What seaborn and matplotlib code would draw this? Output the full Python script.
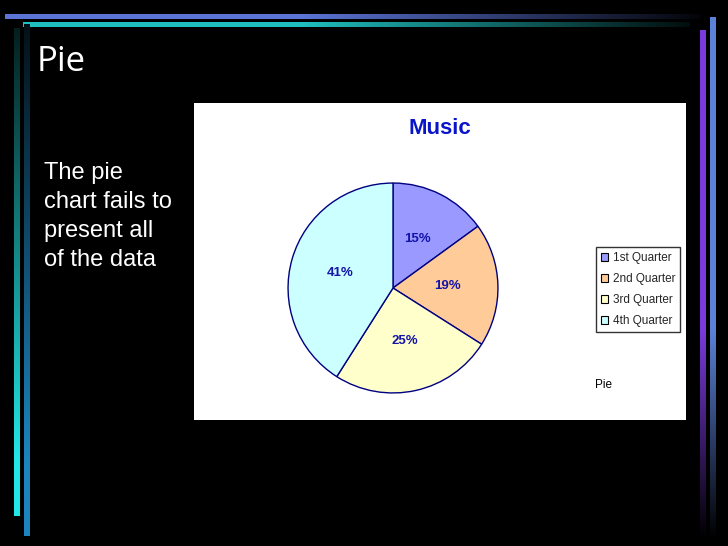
import matplotlib.pyplot as plt
import numpy as np
import seaborn as sns
from matplotlib.colors import LinearSegmentedColormap
from matplotlib.patches import Rectangle

# data
quarters = ["1st Quarter", "2nd Quarter", "3rd Quarter", "4th Quarter"]
music_share = [15, 19, 25, 41]
slice_colors = ["#9999FF", "#FFCC99", "#FFFFCC", "#CCFFFF"]

slide_title = "Pie"
side_text = "The pie\nchart fails to\npresent all\nof the data"
chart_title = "Music"
corner_label = "Pie"

sns.set_theme(style="white")
plt.rcParams["font.family"] = ["Liberation Sans", "DejaVu Sans"]

W, H = 728, 546
fig = plt.figure(figsize=(W / 100, H / 100), dpi=100, facecolor="black")

# background / decoration layer in pixel coordinates
bg = fig.add_axes([0, 0, 1, 1])
bg.set_facecolor("black")
bg.axis("off")


def gradient_bar(ax, x0, x1, y0, y1, color, horizontal, fade_start, fade_end):
    # bar that fades from color into black
    n = 200
    if horizontal:
        pos = np.linspace(x0, x1, n)
    else:
        pos = np.linspace(y0, y1, n)
    t = np.clip((pos - fade_start) / (fade_end - fade_start), 0, 1)
    cmap = LinearSegmentedColormap.from_list("g", [color, "black"])
    img = t[np.newaxis, :] if horizontal else t[:, np.newaxis]
    ax.imshow(img, cmap=cmap, vmin=0, vmax=1, aspect="auto",
              extent=(x0, x1, y1, y0), interpolation="bilinear", zorder=1)


gradient_bar(bg, 5, 700, 14, 19, "#5b74d6", True, 300, 720)
gradient_bar(bg, 23, 690, 22, 27, "#1fbfbf", True, 300, 720)
gradient_bar(bg, 14, 20, 28, 516, "#22e6e6", False, 460, -40)
gradient_bar(bg, 24, 30, 24, 536, "#1b84bd", False, 460, -40)
gradient_bar(bg, 700, 706, 30, 540, "#7a3adc", False, 330, 540)
gradient_bar(bg, 710, 716, 17, 540, "#5b82d8", False, 330, 540)

bg.set_xlim(0, W)
bg.set_ylim(H, 0)

# white chart panel
bg.add_patch(Rectangle((194, 103), 492, 317, facecolor="white",
                       edgecolor="none", zorder=2))

bg.text(37, 71, slide_title, color="white", fontsize=25,
        family=["Open Sans", "DejaVu Sans"], va="baseline", zorder=3)
bg.text(44, 162, side_text, color="white", fontsize=17,
        va="top", linespacing=1.42, zorder=3)
bg.text(440, 129, chart_title, color="#0A14C8", fontsize=16,
        fontweight="bold", ha="center", va="center", zorder=3)
bg.text(595, 385, corner_label, color="black", fontsize=8.5,
        va="center", zorder=3)

# pie
cx, cy, r = 393, 288, 106
ax = fig.add_axes([(cx - r) / W, (H - cy - r) / H, 2 * r / W, 2 * r / H])
ax.set_facecolor("none")
wedges, texts, autotexts = ax.pie(
    music_share,
    colors=slice_colors,
    startangle=90,
    counterclock=False,
    autopct="%1.0f%%",
    pctdistance=0.52,
    wedgeprops={"edgecolor": "#000080", "linewidth": 1.0},
    textprops={"color": "#1414A8", "fontsize": 9.5, "fontweight": "bold"},
)
ax.set_xlim(-1.01, 1.01)
ax.set_ylim(-1.01, 1.01)
ax.set_aspect("equal")

leg = fig.legend(
    wedges, quarters,
    loc="upper left",
    bbox_to_anchor=(596 / W, 1 - 247 / H),
    fontsize=8.5,
    frameon=True,
    fancybox=False,
    handlelength=0.65,
    handleheight=0.65,
    handletextpad=0.4,
    labelspacing=0.78,
    borderpad=0.4,
    borderaxespad=0,
)
leg.get_frame().set_edgecolor("black")
leg.get_frame().set_linewidth(1.0)
for h in leg.legend_handles:
    h.set_edgecolor("black")
    h.set_linewidth(0.8)

fig.savefig("out.png", dpi=100, facecolor="black")
